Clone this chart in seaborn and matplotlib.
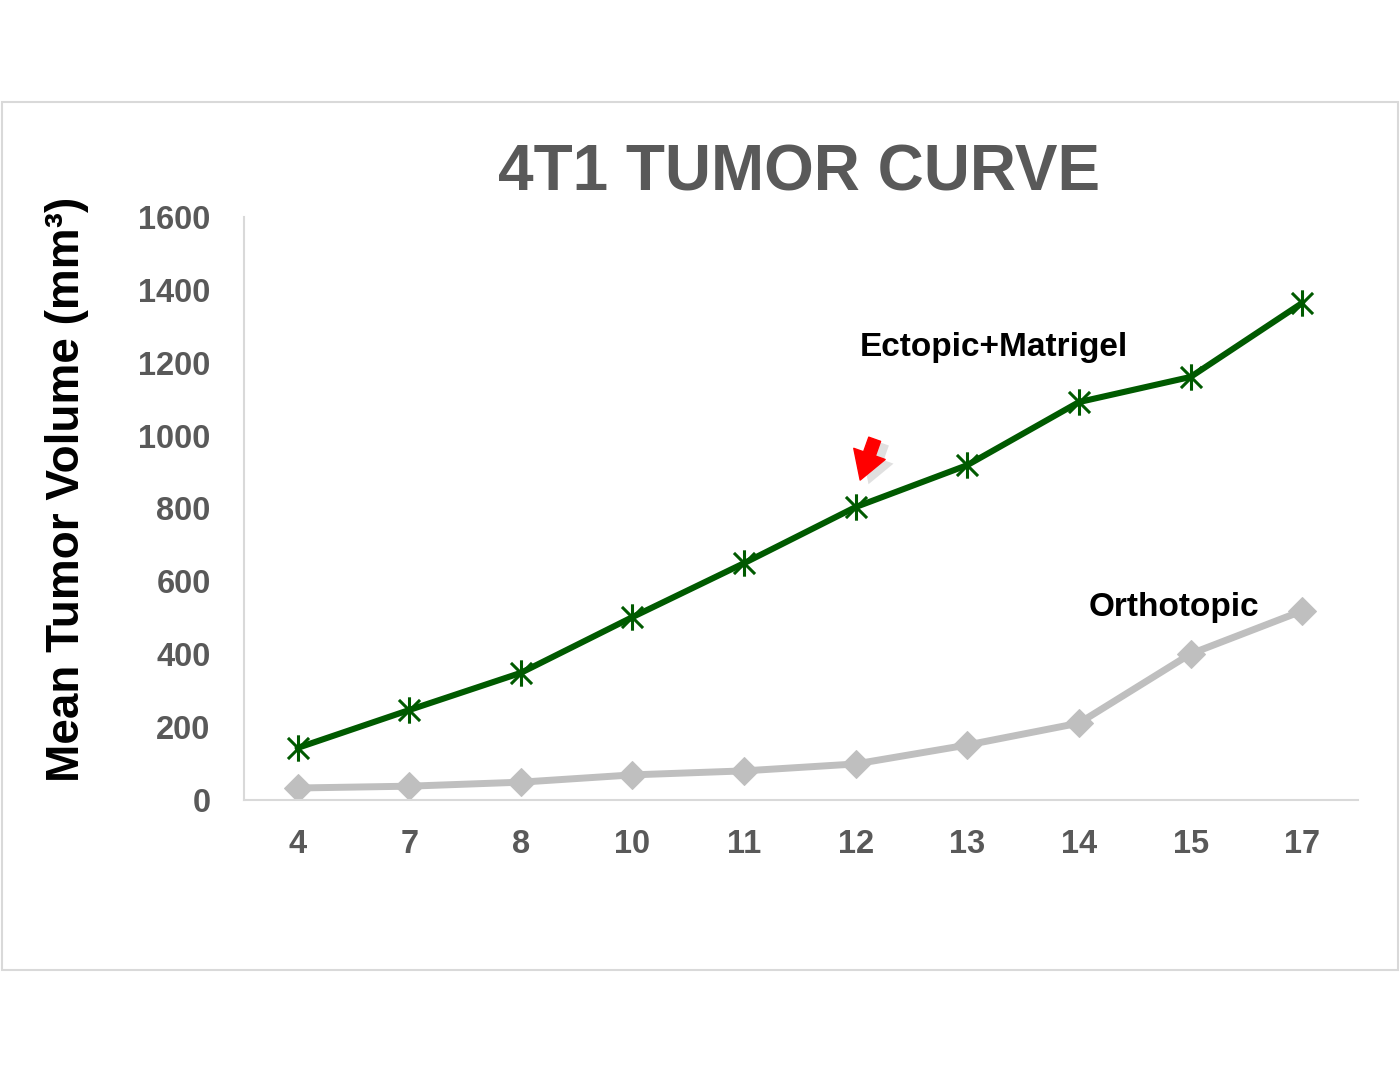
import numpy as np
import pandas as pd
import seaborn as sns
import matplotlib.pyplot as plt
import matplotlib.patheffects as pe
from matplotlib.path import Path
from matplotlib.patches import Rectangle

# data
days = ["4", "7", "8", "10", "11", "12", "13", "14", "15", "17"]
ectopic = [143, 247, 349, 502, 650, 804, 919, 1092, 1161, 1364]
orthotopic = [33, 38, 49, 69, 80, 99, 151, 211, 401, 519]
yticks = [0, 200, 400, 600, 800, 1000, 1200, 1400, 1600]

sns.set_style("white")
plt.rcParams['font.family'] = ['Liberation Sans', 'DejaVu Sans']

pos = np.arange(len(days))
df_ect = pd.DataFrame({"pos": pos, "vol": ectopic})
df_ort = pd.DataFrame({"pos": pos, "vol": orthotopic})

# excel style star marker: an X with a vertical stroke
star = Path([(-1, -1), (1, 1), (-1, 1), (1, -1), (0, -1.25), (0, 1.25)],
            [Path.MOVETO, Path.LINETO, Path.MOVETO, Path.LINETO, Path.MOVETO, Path.LINETO])

fig = plt.figure(figsize=(14, 10.73), dpi=100)
ax = fig.add_axes([0.1743, 0.2544, 0.7957, 0.5434])

sns.lineplot(data=df_ort, x="pos", y="vol", ax=ax, color="#bfbfbf", linewidth=5,
             marker="D", markersize=14, markeredgecolor="#bfbfbf")
sns.lineplot(data=df_ect, x="pos", y="vol", ax=ax, color="#005a00", linewidth=4.4,
             marker=star, markersize=19, markerfacecolor="none",
             markeredgecolor="#005a00", markeredgewidth=2.2)

ax.set_xlim(-0.48, 9.5)
ax.set_ylim(0, 1600)
ax.set_xticks(pos)
ax.set_xticklabels(days)
ax.set_yticks(yticks)
ax.tick_params(axis="both", length=0, labelsize=23.5, labelcolor="#595959")
ax.tick_params(axis="y", pad=24)
ax.tick_params(axis="x", pad=21)
for lab in ax.get_xticklabels() + ax.get_yticklabels():
    lab.set_fontweight("bold")

for s in ["top", "right"]:
    ax.spines[s].set_visible(False)
for s in ["left", "bottom"]:
    ax.spines[s].set_color("#d9d9d9")
    ax.spines[s].set_linewidth(1.5)

ax.set_xlabel("")
ax.set_ylabel("Mean Tumor Volume (mm³)", fontsize=33, fontweight="bold", color="black")
ax.yaxis.set_label_coords(-0.139, 0.533)

fig.text(0.571, 0.838, "4T1 TUMOR CURVE", ha="center", va="center",
         fontsize=46, fontweight="bold", color="#595959")

ax.text(5.04, 1243, "Ectopic+Matrigel", fontsize=24, fontweight="bold",
        color="black", va="center", ha="left")
ax.text(7.09, 527, "Orthotopic", fontsize=24, fontweight="bold",
        color="black", va="center", ha="left")

# red arrow pointing at day 12
ax.annotate("", xy=(5.04, 878), xytext=(5.17, 990),
            arrowprops=dict(arrowstyle="simple,head_width=1.2,head_length=1.0,tail_width=0.45",
                            color="red", mutation_scale=20, shrinkA=0, shrinkB=0,
                            path_effects=[pe.SimplePatchShadow(offset=(6, -3), shadow_rgbFace="#9a9a9a",
                                                               alpha=0.3),
                                          pe.Normal()]))

# light grey frame around the chart area
fig.patches.append(Rectangle((2 / 1400, 0.096), 1396 / 1400, 0.809, transform=fig.transFigure,
                             fill=False, edgecolor="#d9d9d9", linewidth=1.5))

fig.savefig("out.png", dpi=100, facecolor="white")
